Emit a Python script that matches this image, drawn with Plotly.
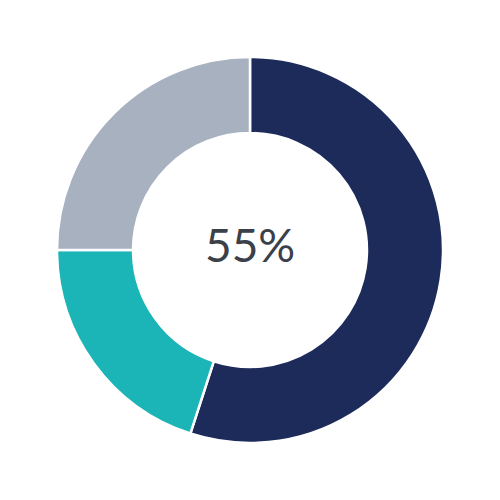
import plotly.graph_objects as go

labels = ["A", "B", "C"]
values = [55, 20, 25]
colors = ["#1c2b5a", "#1bb5b8", "#a7b1c0"]
center_text = "55%"

fig = go.Figure(go.Pie(
    labels=labels,
    values=values,
    hole=0.606,
    sort=False,
    direction="clockwise",
    rotation=0,
    marker=dict(colors=colors, line=dict(color="white", width=2.5)),
    textinfo="none",
    hoverinfo="none",
    showlegend=False,
))
fig.add_annotation(text=center_text, x=0.5, y=0.5, xref="paper", yref="paper",
                   showarrow=False, yshift=6,
                   font=dict(family="Lato", size=46, color="#3b4049"))
fig.update_layout(width=500, height=500, margin=dict(l=49, r=65, t=49, b=65),
                  paper_bgcolor="white", plot_bgcolor="white")
fig.write_html("out.html")
